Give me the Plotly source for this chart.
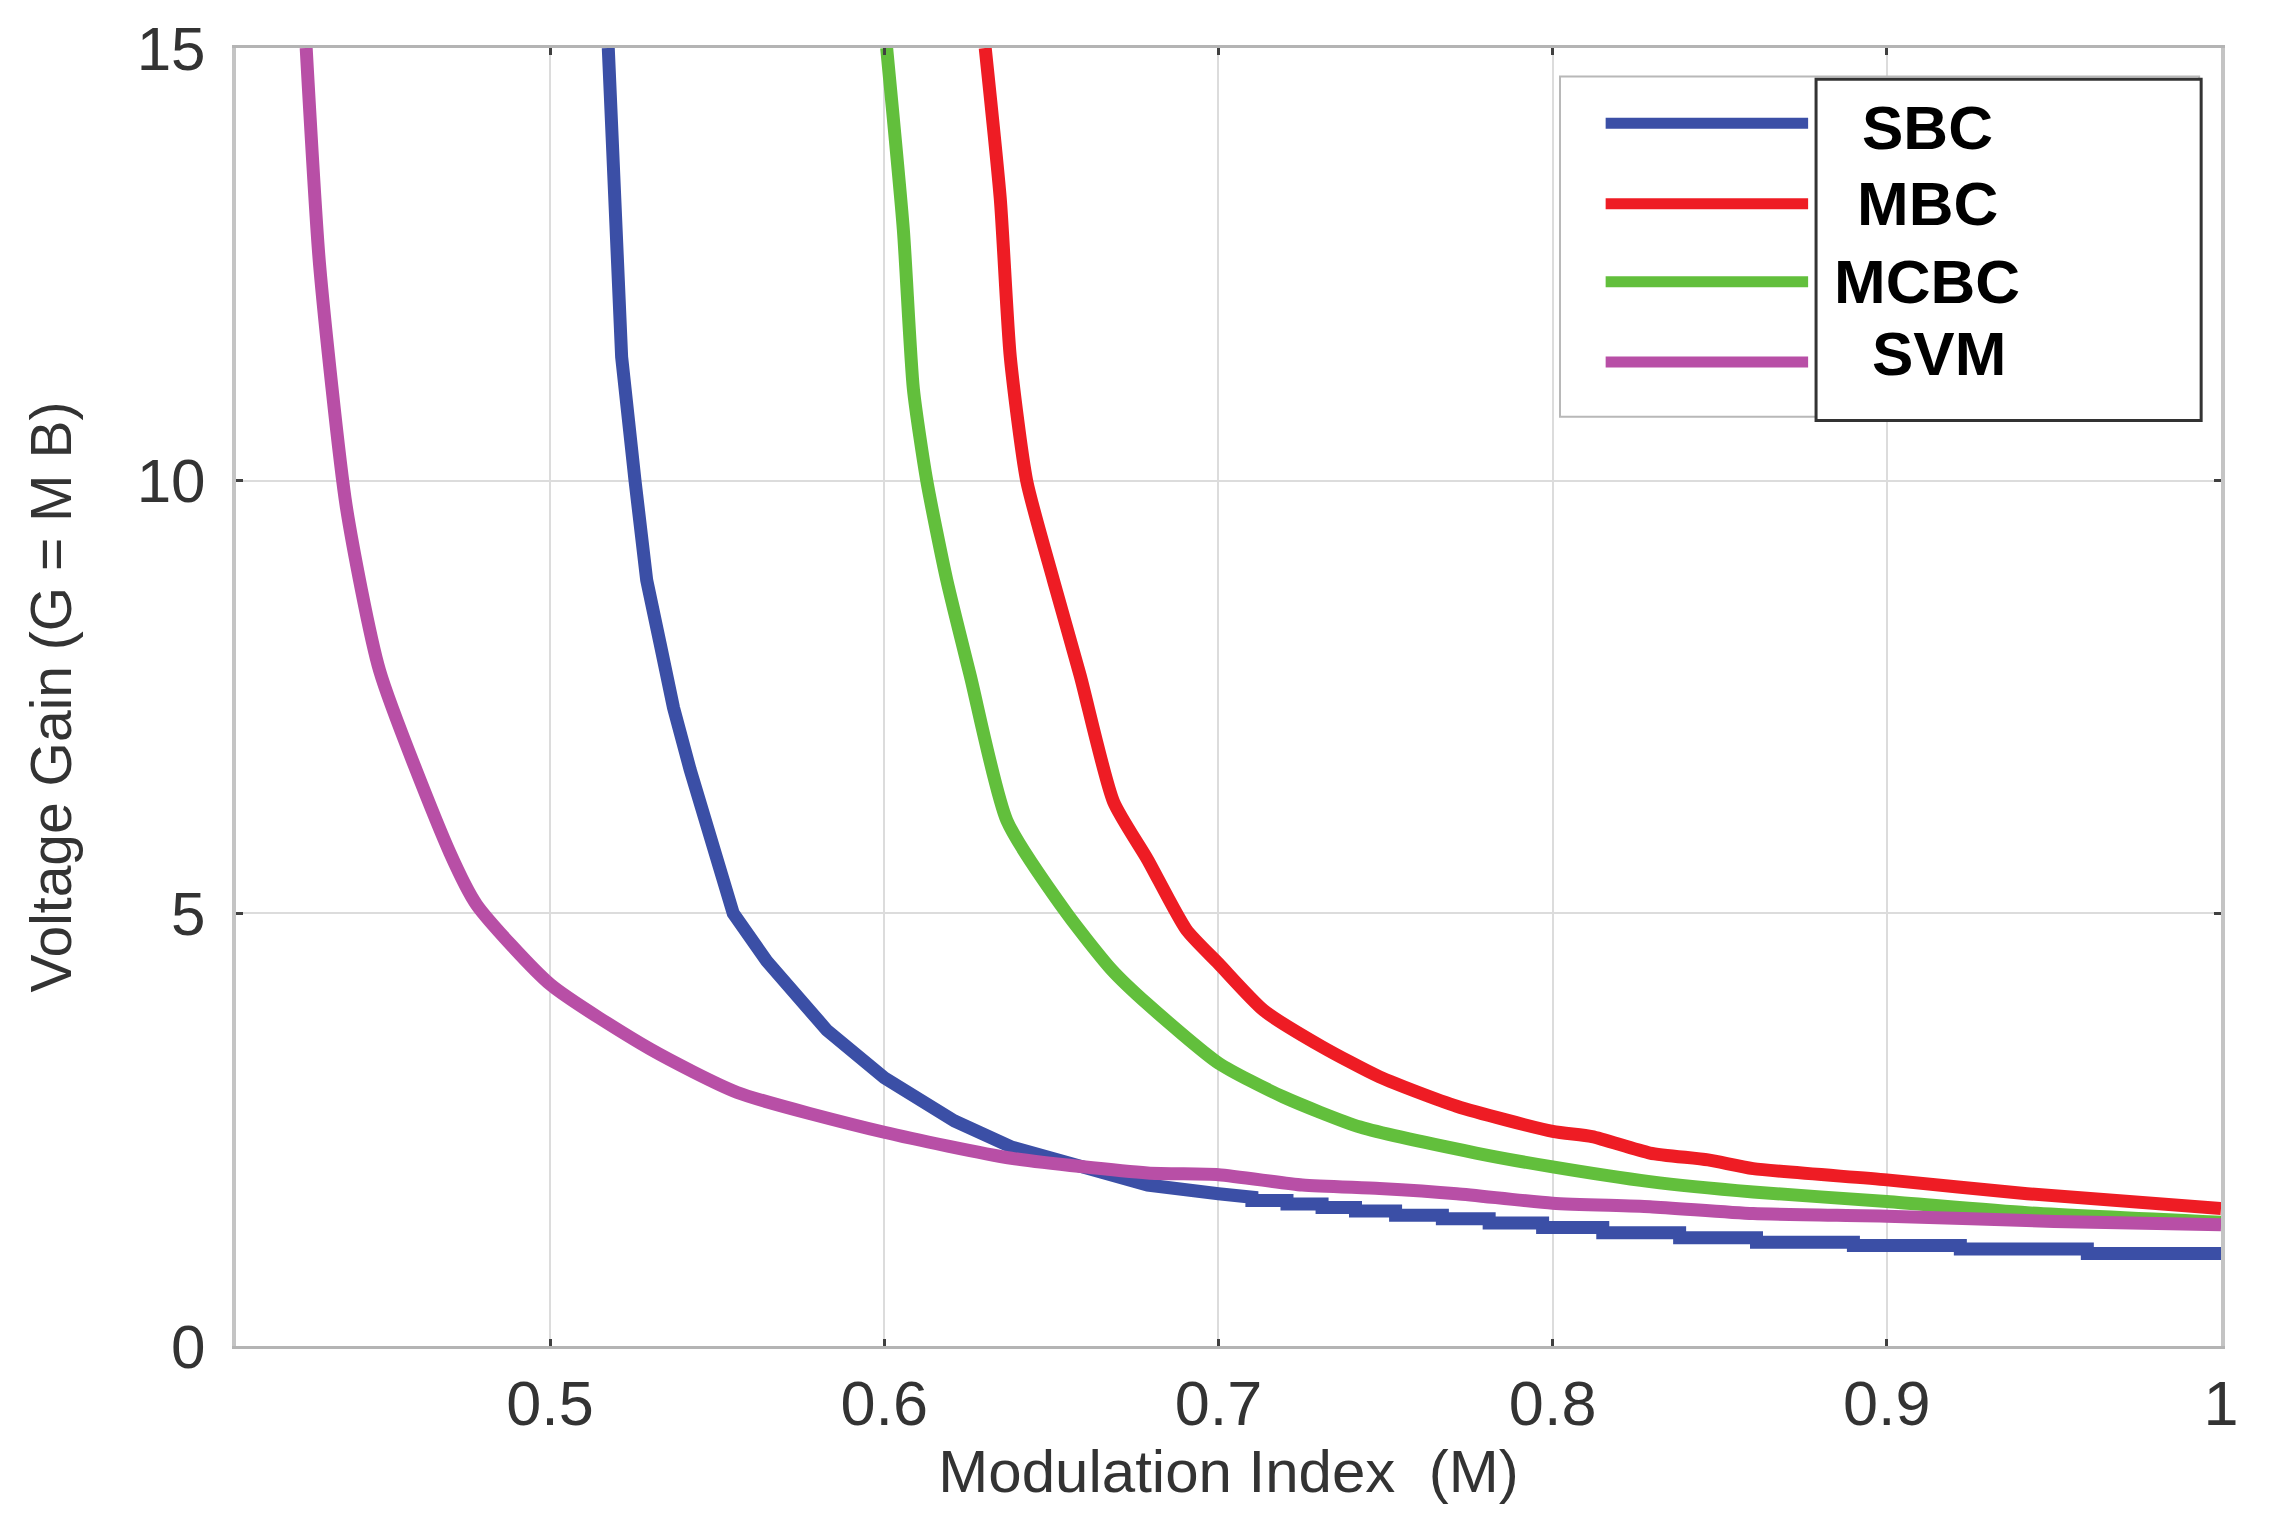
import plotly.graph_objects as go

# ---- data ----
names = ["SBC", "MBC", "MCBC", "SVM"]
colors = ["#3b4fa6", "#ee1c24", "#62bf3c", "#b84fa6"]

sbc_m = [0.5174, 0.5189, 0.5214, 0.5254, 0.5289, 0.5329, 0.5369, 0.5419, 0.5479, 0.5548,
         0.5648, 0.5828, 0.600, 0.621, 0.638, 0.665, 0.6788, 0.700,
         0.710, 0.710, 0.7205, 0.7205, 0.731, 0.731, 0.741, 0.741, 0.753, 0.753,
         0.767, 0.767, 0.781, 0.781, 0.797, 0.797, 0.815, 0.815, 0.838, 0.838,
         0.861, 0.861, 0.890, 0.890, 0.922, 0.922, 0.960, 0.960, 1.000]
sbc_g = [15.0, 13.26, 11.43, 10.0, 8.85, 8.12, 7.38, 6.66, 5.92, 5.0,
         4.45, 3.65, 3.1, 2.6, 2.3, 2.0, 1.86, 1.76,
         1.72, 1.68, 1.68, 1.64, 1.64, 1.60, 1.60, 1.56, 1.56, 1.51,
         1.51, 1.47, 1.47, 1.42, 1.42, 1.37, 1.37, 1.31, 1.31, 1.25,
         1.25, 1.20, 1.20, 1.16, 1.16, 1.12, 1.12, 1.07, 1.07]

mbc_m = [0.6302, 0.6347, 0.6377, 0.6426, 0.6506, 0.6586, 0.6686, 0.6788, 0.6904, 0.700,
         0.7135, 0.7309, 0.7482, 0.7713, 0.800, 0.8118, 0.8291, 0.8465, 0.860, 0.900,
         0.942, 1.000]
mbc_g = [15.0, 13.26, 11.43, 10.0, 8.85, 7.75, 6.29, 5.62, 4.81, 4.42,
         3.88, 3.46, 3.11, 2.77, 2.48, 2.42, 2.23, 2.15, 2.05, 1.92,
         1.76, 1.59]

mcbc_m = [0.6007, 0.6057, 0.6087, 0.6127, 0.6187, 0.6257, 0.6367, 0.6546, 0.668,
          0.6788, 0.700, 0.7193, 0.7424, 0.7771, 0.800, 0.8291, 0.860, 0.900, 0.942, 1.000]
mcbc_g = [15.0, 12.9, 11.06, 10.0, 8.85, 7.75, 6.07, 5.0, 4.35,
          3.95, 3.27, 2.88, 2.53, 2.23, 2.07, 1.90, 1.78, 1.67, 1.54, 1.43]

svm_m = [0.427, 0.431, 0.439, 0.449, 0.470, 0.478, 0.500, 0.530, 0.556, 0.600, 0.638,
         0.6788, 0.700, 0.7251, 0.7482, 0.7713, 0.800, 0.8291, 0.860, 0.900, 0.950, 1.000]
svm_g = [15.0, 12.5, 9.7, 7.8, 5.7, 5.1, 4.18, 3.43, 2.93, 2.47, 2.17,
         2.0, 1.98, 1.86, 1.82, 1.76, 1.65, 1.61, 1.53, 1.50, 1.44, 1.40]

x_ticks = [0.5, 0.6, 0.7, 0.8, 0.9, 1.0]
x_ticktext = ["0.5", "0.6", "0.7", "0.8", "0.9", "1"]
y_ticks = [0, 5, 10, 15]

series = [(sbc_m, sbc_g), (mbc_m, mbc_g), (mcbc_m, mcbc_g), (svm_m, svm_g)]

fig = go.Figure()
for idx in [0, 2, 1, 3]:
    m, g = series[idx]
    shape = "linear" if idx == 0 else "spline"
    fig.add_trace(go.Scatter(x=m, y=g, mode="lines", name=names[idx],
                             line=dict(color=colors[idx], width=13, shape=shape,
                                       smoothing=0.6),
                             showlegend=False))

font_fam = "Liberation Sans, Arial, sans-serif"

fig.update_layout(
    width=2269, height=1522,
    margin=dict(l=236, r=48, t=48, b=176),
    paper_bgcolor="white", plot_bgcolor="white",
    font=dict(family=font_fam, color="#262626"),
)
fig.update_xaxes(
    range=[0.406, 1.0], tickvals=x_ticks, ticktext=x_ticktext,
    showgrid=True, gridcolor="#dcdcdc", gridwidth=2,
    showline=True, linecolor="#b4b4b4", linewidth=3, mirror="allticks",
    ticks="inside", ticklen=7, tickwidth=3, tickcolor="#404040",
    tickfont=dict(size=63, color="#333333"), ticklabelstandoff=0,
    zeroline=False,
    title=dict(text="Modulation Index  (M)", font=dict(size=60, color="#333333"), standoff=8),
)
fig.update_yaxes(
    range=[0, 15], tickvals=y_ticks,
    showgrid=True, gridcolor="#dcdcdc", gridwidth=2,
    showline=True, linecolor="#c4c4c4", linewidth=4, mirror="allticks",
    ticks="inside", ticklen=7, tickwidth=3, tickcolor="#404040",
    tickfont=dict(size=62, color="#333333"), ticklabelstandoff=14,
    zeroline=False,
    title=dict(text="Voltage Gain (G = M B)", font=dict(size=57, color="#333333"), standoff=48),
)

# ---- legend (drawn manually to mimic the reference boxes) ----
shapes = [
    dict(type="rect", xref="paper", yref="paper", x0=0.667, x1=0.989, y0=0.716, y1=0.978,
         line=dict(color="#b8b8b8", width=2), fillcolor="white", layer="above"),
    dict(type="rect", xref="paper", yref="paper", x0=0.796, x1=0.990, y0=0.713, y1=0.976,
         line=dict(color="#333333", width=3), fillcolor="white", layer="above"),
]
row_y = [0.942, 0.880, 0.820, 0.758]
text_y = [0.939, 0.880, 0.820, 0.765]
text_x = [0.852, 0.852, 0.852, 0.858]
annotations = []
for i, nm in enumerate(names):
    shapes.append(dict(type="line", xref="paper", yref="paper", x0=0.690, x1=0.792,
                       y0=row_y[i], y1=row_y[i], line=dict(color=colors[i], width=11),
                       layer="above"))
    annotations.append(dict(xref="paper", yref="paper", x=text_x[i], y=text_y[i],
                            text="<b>" + nm + "</b>", showarrow=False,
                            font=dict(size=62, color="black", family=font_fam),
                            xanchor="center", yanchor="middle"))
fig.update_layout(shapes=shapes, annotations=annotations)

fig.write_html("out.html")
